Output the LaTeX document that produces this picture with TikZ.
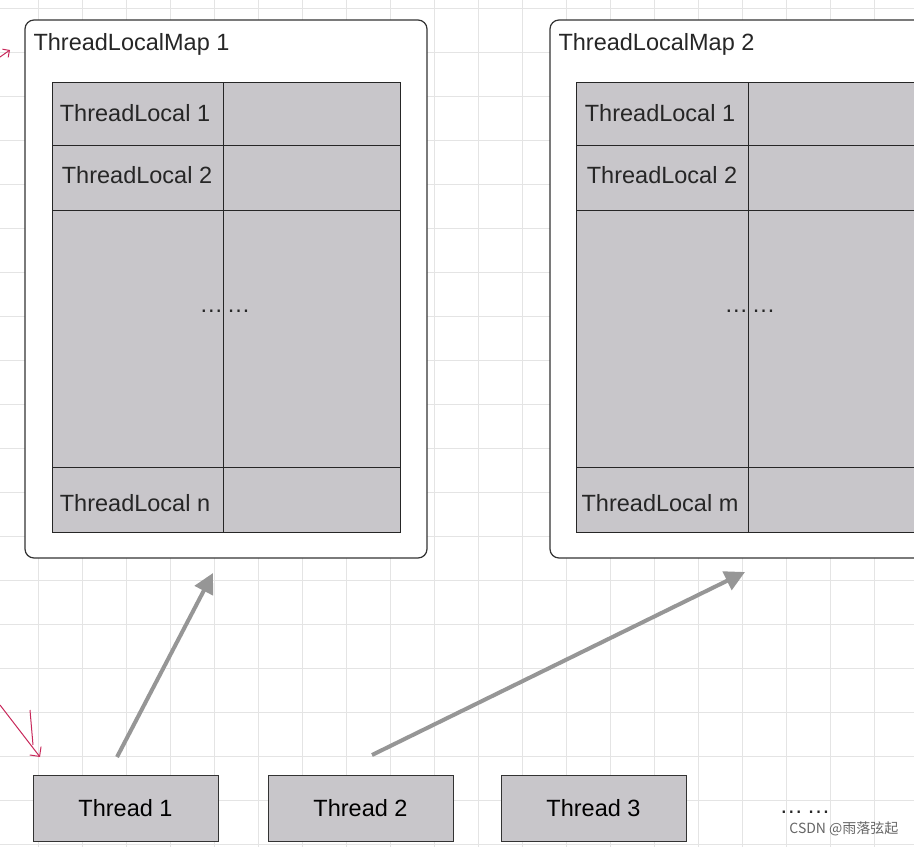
\documentclass[tikz,border=0pt]{standalone}
\usepackage{fontspec}
\setmainfont{Liberation Sans}
\newfontfamily\cjk{Noto Sans CJK SC}
\usetikzlibrary{arrows.meta}
\definecolor{cellg}{RGB}{200,198,202}
\definecolor{gridc}{RGB}{228,228,228}
\definecolor{arrg}{RGB}{150,150,150}
\definecolor{pinkc}{RGB}{200,40,90}
\tikzset{
  mapbox/.style={draw=black!80,line width=1.2pt,rounded corners=9pt,fill=white},
  cell/.style={draw=black!85,line width=0.9pt,fill=cellg},
  lbl/.style={font=\fontsize{23.5}{26}\selectfont,text=black!85},
  thr/.style={draw=black!80,line width=0.9pt,fill=cellg,minimum width=185pt,minimum height=66pt,font=\fontsize{23.5}{26}\selectfont},
  link/.style={draw=arrg,line width=4pt,-{Triangle[length=20pt,width=20pt]}},
}
\begin{document}
\begin{tikzpicture}[x=1pt,y=-1pt]
\useasboundingbox (0,0) rectangle (914,847);
\begin{scope}
\clip (0,0) rectangle (914,847);
\fill[white] (0,0) rectangle (914,847);
\foreach \x in {-6,38,...,914} \draw[gridc,line width=1pt] (\x,0) -- (\x,847);
\foreach \y in {8,52,...,847} \draw[gridc,line width=1pt] (0,\y) -- (914,\y);
% map 1
\draw[mapbox] (25,20) rectangle (427,558);
\node[lbl,anchor=west] (m1) at (30,44) {ThreadLocalMap 1};
\draw[cell] (52,82) rectangle (400,532);
\draw[black!85,line width=0.9pt] (223,82) -- (223,532) (52,145) -- (400,145) (52,210) -- (400,210) (52,467) -- (400,467);
\node[lbl] (a1) at (135,113) {ThreadLocal 1};
\node[lbl] (a2) at (137,175) {ThreadLocal 2};
\node[lbl] (a3) at (225,311) {\ldots\,\ldots};
\node[lbl] (an) at (135,503) {ThreadLocal n};
% map 2
\draw[mapbox] (550,20) rectangle (940,558);
\node[lbl,anchor=west] (m2) at (555,44) {ThreadLocalMap 2};
\draw[cell] (576,82) rectangle (940,532);
\draw[black!85,line width=0.9pt] (748,82) -- (748,532) (576,145) -- (940,145) (576,210) -- (940,210) (576,467) -- (940,467);
\node[lbl] (b1) at (660,113) {ThreadLocal 1};
\node[lbl] (b2) at (662,175) {ThreadLocal 2};
\node[lbl] (b3) at (750,311) {\ldots\,\ldots};
\node[lbl] (bm) at (660,503) {ThreadLocal m};
% threads
\node[thr] (t1) at (125.5,808) {Thread 1};
\node[thr] (t2) at (360.5,808) {Thread 2};
\node[thr] (t3) at (593.5,808) {Thread 3};
\node[lbl] (dots) at (805,812) {\ldots\,\ldots};
\coordinate (s1) at (117,757);
\coordinate (e1) at (213,573);
\coordinate (s2) at (372,755);
\coordinate (e2) at (745,572);
\draw[link] (s1) -- (e1);
\draw[link] (s2) -- (e2);
% pink annotations
\coordinate (p1) at (0,57);
\coordinate (p2) at (10,50);
\draw[pinkc,line width=1pt,-{Straight Barb[length=5pt]}] (p1) -- (p2);
\coordinate (q1) at (0,705);
\coordinate (q2) at (40,757);
\draw[pinkc,line width=1pt,-{Straight Barb[length=7pt]}] (q1) .. controls (20,730) .. (q2);
\draw[pinkc,line width=1pt] (30,710) -- (33,745);
\node[font=\cjk\fontsize{14}{16}\selectfont,text=black!60,anchor=east] (wm) at (902,829) {CSDN @雨落弦起};
\end{scope}
\end{tikzpicture}
\end{document}
